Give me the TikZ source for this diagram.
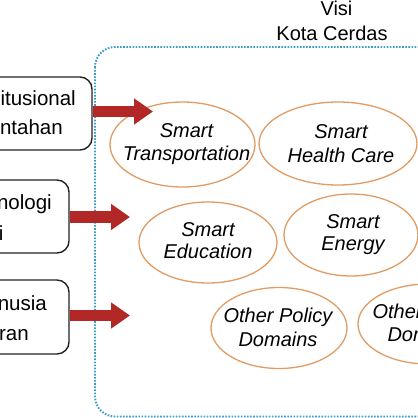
\documentclass[tikz,border=0pt]{standalone}
\usepackage{fontspec}
\setmainfont{Liberation Sans}
\usetikzlibrary{arrows.meta,shapes.geometric}
\definecolor{frameblue}{RGB}{58,155,196}
\definecolor{ovalorange}{RGB}{224,156,100}
\definecolor{arrowred}{RGB}{178,40,38}
\definecolor{boxgray}{RGB}{35,35,35}
\tikzset{
  oval/.style={draw=ovalorange, line width=1.3pt, ellipse, inner sep=0pt},
  lbl/.style={inner sep=0pt, anchor=base, font=\fontsize{20}{23}\selectfont\itshape, text=black},
  boxtxt/.style={inner sep=0pt, anchor=base east, font=\fontsize{20.5}{24}\selectfont, text=black},
  ttl/.style={inner sep=0pt, anchor=base, font=\fontsize{20}{24}\selectfont, text=black},
  leftbox/.style={draw=boxgray, line width=1.4pt, rounded corners=12pt, inner sep=0pt},
  fatarrow/.style={draw=arrowred, line width=11.5pt, -{Triangle[length=19pt,width=25pt]}},
  visiframe/.style={draw=frameblue, line width=1.9pt, dash pattern=on 1.6pt off 1.5pt, rounded corners=20pt}
}
\begin{document}
\begin{tikzpicture}[x=1pt,y=-1pt]
\useasboundingbox (0,0) rectangle (418,418);
\clip (0,0) rectangle (418,418);
\fill[white] (0,0) rectangle (418,418);
% dotted vision frame
\draw[visiframe] (95,47) rectangle (450,416.5);
% title
\node[ttl] (t1) at (336.5,15) {Visi};
\node[ttl] (t2) at (332,40) {Kota Cerdas};
% left boxes
\node[leftbox, minimum width=122pt, minimum height=73pt] (b1) at (31,113.5) {};
\node[leftbox, minimum width=99pt, minimum height=73pt] (b2) at (19.5,216.5) {};
\node[leftbox, minimum width=99pt, minimum height=74pt] (b3) at (19.5,317) {};
\node[boxtxt] (b1a) at (76,105) {itusional};
\node[boxtxt] (b1b) at (63,134) {ntahan};
\node[boxtxt] (b2a) at (52,209) {nologi};
\node[boxtxt] (b2b) at (3.6,240) {i};
\node[boxtxt] (b3a) at (47,310) {nusia};
\node[boxtxt] (b3b) at (29,340) {ran};
% ellipses
\node[oval, minimum width=145pt, minimum height=85pt] (e1) at (182.5,144.5) {};
\node[oval, minimum width=158pt, minimum height=83pt] (e2) at (338,143.5) {};
\node[oval, minimum width=138pt, minimum height=81pt] (e3) at (208,242.5) {};
\node[oval, minimum width=134pt, minimum height=82pt] (e4) at (351,235) {};
\node[oval, minimum width=136pt, minimum height=81pt] (e5) at (279,328) {};
\node[oval, minimum width=140pt, minimum height=80pt] (e6) at (428,324) {};
% ellipse labels
\node[lbl] (e1a) at (186.5,137) {Smart};
\node[lbl] (e1b) at (186.5,160) {Transportation};
\node[lbl] (e2a) at (341,138) {Smart};
\node[lbl] (e2b) at (341,162) {Health Care};
\node[lbl] (e3a) at (208,236) {Smart};
\node[lbl] (e3b) at (208,258) {Education};
\node[lbl] (e4a) at (353,228) {Smart};
\node[lbl] (e4b) at (353,250) {Energy};
\node[lbl] (e5a) at (278,322) {Other Policy};
\node[lbl] (e5b) at (278,346) {Domains};
\node[lbl] (e6a) at (427,318) {Other Policy};
\node[lbl] (e6b) at (427,341) {Domains};
% arrows
\coordinate (a1) at (153,111.5);
\coordinate (a2) at (130,217);
\coordinate (a3) at (130,315.5);
\draw[fatarrow] (b1.east |- a1) -- (a1);
\draw[fatarrow] (b2.east |- a2) -- (a2);
\draw[fatarrow] (b3.east |- a3) -- (a3);
\end{tikzpicture}
\end{document}
